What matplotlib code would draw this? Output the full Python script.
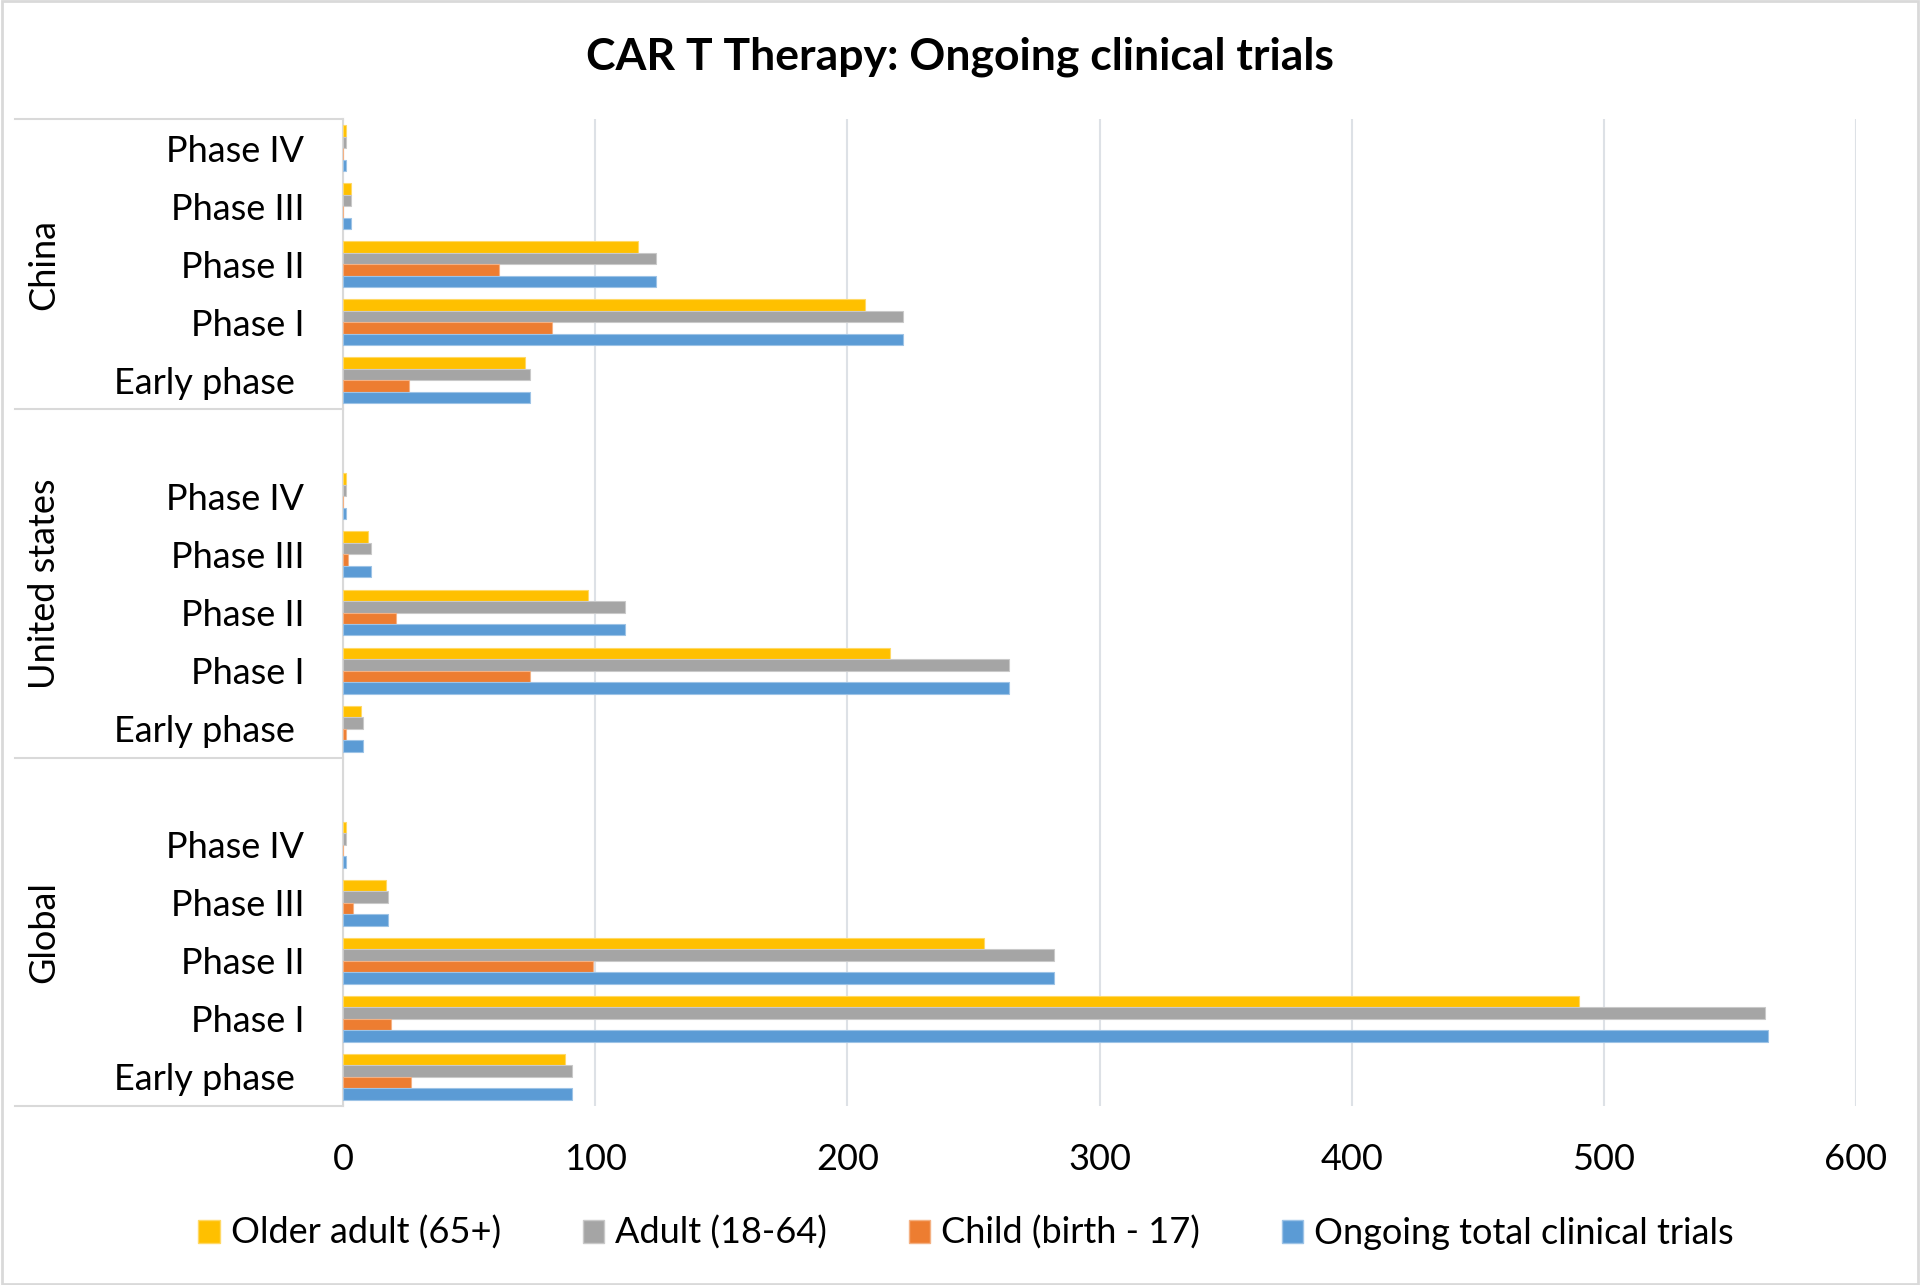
import numpy as np
import matplotlib
matplotlib.use("Agg")
import matplotlib.pyplot as plt
from matplotlib.patches import Rectangle, Patch
from matplotlib.lines import Line2D

plt.rcParams['font.family'] = ['Lato', 'DejaVu Sans']

# ---- data ----
phases = ["Early phase ", "Phase I", "Phase II", "Phase III", "Phase IV"]
regions = ["Global", "United states", "China"]  # bottom to top

older_global = [88, 490, 254, 17, 1]
adult_global = [91, 564, 282, 18, 1]
child_global = [27, 19, 99, 4, 0]
total_global = [91, 565, 282, 18, 1]

older_us = [7, 217, 97, 10, 1]
adult_us = [8, 264, 112, 11, 1]
child_us = [1, 74, 21, 2, 0]
total_us = [8, 264, 112, 11, 1]

older_china = [72, 207, 117, 3, 1]
adult_china = [74, 222, 124, 3, 1]
child_china = [26, 83, 62, 0, 0]
total_china = [74, 222, 124, 3, 1]

series_names = ["Older adult (65+)", "Adult (18-64)", "Child (birth - 17)",
                "Ongoing total clinical trials"]
colors = ["#FFC000", "#A5A5A5", "#ED7D31", "#5B9BD5"]
edge_colors = ["#FFD966", "#C9C9C9", "#F4B183", "#9DC3E6"]
xticks = [0, 100, 200, 300, 400, 500, 600]
title = "CAR T Therapy: Ongoing clinical trials"

# build slot layout: Global(5) + blank + US(5) + blank + China(5)
NAN = np.nan
def block(g, u, c):
    return list(g) + [NAN] + list(u) + [NAN] + list(c)

older = block(older_global, older_us, older_china)
adult = block(adult_global, adult_us, adult_china)
child = block(child_global, child_us, child_china)
total = block(total_global, total_us, total_china)
labels = phases + [""] + phases + [""] + phases
n = len(labels)
ypos = np.arange(n)

W, H = 1920, 1285
fig = plt.figure(figsize=(W / 100, H / 100), dpi=100)
fig.patch.set_facecolor("white")

ax_l, ax_r, ax_t, ax_b = 343, 1856, 119, 1106
ax = fig.add_axes([ax_l / W, 1 - ax_b / H, (ax_r - ax_l) / W, (ax_b - ax_t) / H])

h = 0.198
vals = [older, adult, child, total]
offsets = [1.5 * h, 0.5 * h, -0.5 * h, -1.5 * h]
handles = []
for v, c, ec, off, name in zip(vals, colors, edge_colors, offsets, series_names):
    arr = np.array(v, dtype=float)
    mask = ~np.isnan(arr)
    ax.barh(ypos[mask] + off, arr[mask], height=h, color=c, edgecolor=ec,
            linewidth=0.8, zorder=3)
    handles.append(Patch(facecolor=c, edgecolor=ec, label=name))

ax.set_xlim(0, 600)
ax.set_ylim(-0.5, n - 0.5)
ax.set_xticks(xticks)
ax.set_xticklabels([str(t) for t in xticks])
ax.set_yticks(ypos)
ax.set_yticklabels(labels)
ax.tick_params(axis='both', length=0, labelsize=26, colors='black')
ax.tick_params(axis='y', pad=28)
ax.tick_params(axis='x', pad=27)
ax.grid(axis='x', color='#DDE1E6', linewidth=1.5, zorder=0)
ax.set_axisbelow(True)
for s in ["top", "right", "bottom"]:
    ax.spines[s].set_visible(False)
ax.spines["left"].set_color('#D9D9D9')
ax.spines["left"].set_linewidth(1.5)

# group separators and labels
x_left_axes = (15 - ax_l) / (ax_r - ax_l)
trans = ax.get_yaxis_transform()
for yb in [-0.5, 5.5, 11.5, 16.5]:
    ax.add_line(Line2D([x_left_axes, 0], [yb, yb], transform=trans,
                       color='#D9D9D9', linewidth=1.5, clip_on=False))
group_centers = [2.5, 8.5, 14]
x_group = (44 - ax_l) / (ax_r - ax_l)
for name, yc in zip(regions, group_centers):
    ax.text(x_group, yc, name, transform=trans, rotation=90, ha='center',
            va='center', fontsize=26, color='black')

fig.text(0.5, 1 - 57 / H, title, ha='center', va='center', fontsize=32,
         fontweight='bold', color='black')

fig.legend(handles=handles, loc='center', bbox_to_anchor=(966 / W, 1 - 1233 / H),
           ncol=4, frameon=False, fontsize=26, handlelength=0.6, handleheight=0.6,
           handletextpad=0.3, columnspacing=2.26)

fig.add_artist(Rectangle((0.001, 0.001), 0.998, 0.998, transform=fig.transFigure,
                         fill=False, edgecolor='#D9D9D9', linewidth=2))

fig.savefig("out.png", dpi=100)
